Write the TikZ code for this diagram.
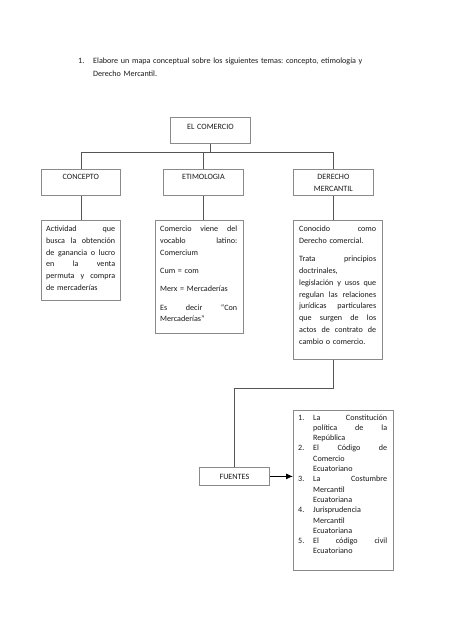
\documentclass[tikz,border=0pt]{standalone}
\usepackage{fontspec}
\setmainfont{Carlito}
\usetikzlibrary{arrows.meta,calc}
\definecolor{boxc}{HTML}{8A8A8A}
\definecolor{linec}{HTML}{555555}
\definecolor{txt}{HTML}{1A1A1A}
\frenchspacing
\newcommand\jl[2][77pt]{{\spaceskip=0pt\xspaceskip=0pt\makebox[#1][s]{#2}}}
\newcommand\nm[1]{\makebox[15pt][l]{#1}}
\begin{document}
\begin{tikzpicture}[x=1pt,y=-1pt,
  every node/.style={text=txt, font=\fontsize{8.1}{11.8}\selectfont\frenchspacing},
  hbox/.style={draw=boxc, line width=0.8pt, anchor=north west, inner sep=0pt, align=center},
  tbox/.style={draw=boxc, line width=0.8pt, anchor=north west, inner sep=0pt},
  tx/.style={anchor=base west, inner sep=0pt, align=left},
  conn/.style={draw=linec, line width=0.8pt}]
\fill[white] (0,0) rectangle (452,640);
\useasboundingbox (0,0) rectangle (452,640);

% title
\node[tx, text width=320pt, font=\fontsize{8.1}{13}\selectfont\frenchspacing] (title) at (78,63)
  {\nm{1.}Elabore un mapa conceptual sobre los siguientes temas:\ concepto, etimología y\\
   \hspace*{15pt}Derecho Mercantil.};

% root
\node[hbox, text width=80pt, text height=12pt, text depth=14pt] (com) at (170,117) {EL COMERCIO};

% headers
\node[hbox, text width=79pt, text height=10pt, text depth=16pt] (ch) at (41,169) {CONCEPTO};
\node[hbox, text width=80pt, text height=10pt, text depth=16pt] (eh) at (163,169) {ETIMOLOGIA};
\node[hbox, text width=80pt, text height=10pt, text depth=16pt] (dh) at (293,169) {DERECHO\\MERCANTIL};

% text boxes
\node[tbox, minimum width=79pt, minimum height=80pt] (cb) at (41,220) {};
\node[tx, text width=69pt] (ct) at ($(cb.north west)+(5,11.5)$)
  {\jl[69pt]{Actividad que}\\
   \jl[69pt]{busca la obtención}\\
   \jl[69pt]{de ganancia o lucro}\\
   \jl[69pt]{en la venta}\\
   \jl[69pt]{permuta y compra}\\
   de mercaderías};

\node[tbox, minimum width=88pt, minimum height=113pt] (eb) at (155,220) {};
\node[tx, text width=77pt] (et) at ($(eb.north west)+(5,11.5)$)
  {\jl{Comercio viene del}\\
   \jl{vocablo latino:}\\
   Comercium\\[6.5pt]
   Cum = com\\[6.5pt]
   Merx = Mercaderías\\[6.5pt]
   \jl{Es decir “Con}\\
   Mercaderías”};

\node[tbox, minimum width=89pt, minimum height=139pt] (db) at (293,220) {};
\node[tx, text width=77pt] (dt) at ($(db.north west)+(6,11.5)$)
  {\jl{Conocido como}\\
   Derecho comercial.\\[6.5pt]
   \jl{Trata principios}\\
   doctrinales,\\
   \jl{legislación y usos que}\\
   \jl{regulan las relaciones}\\
   \jl{jurídicas particulares}\\
   \jl{que surgen de los}\\
   \jl{actos de contrato de}\\
   cambio o comercio.};

% fuentes
\node[hbox, text width=70pt, text height=12pt, text depth=6pt] (fu) at (199,467) {FUENTES};
\node[tbox, minimum width=100pt, minimum height=160pt] (fl) at (293,410) {};
\node[tx, text width=89pt, font=\fontsize{8.1}{10.3}\selectfont] (ft) at ($(fl.north west)+(5,10)$)
  {\nm{1.}\jl[74pt]{La Constitución}\\
   \hspace*{15pt}\jl[74pt]{política de la}\\
   \hspace*{15pt}República\\
   \nm{2.}\jl[74pt]{El Código de}\\
   \hspace*{15pt}Comercio\\
   \hspace*{15pt}Ecuatoriano\\
   \nm{3.}\jl[74pt]{La Costumbre}\\
   \hspace*{15pt}Mercantil\\
   \hspace*{15pt}Ecuatoriana\\
   \nm{4.}Jurisprudencia\\
   \hspace*{15pt}Mercantil\\
   \hspace*{15pt}Ecuatoriana\\
   \nm{5.}\jl[74pt]{El código civil}\\
   \hspace*{15pt}Ecuatoriano};

% connectors
\coordinate (bus) at (204,152);
\draw[conn] (com.south) -- (com.south |- bus);
\draw[conn] (ch.north |- bus) -- (dh.north |- bus);
\draw[conn] (ch.north) -- (ch.north |- bus);
\draw[conn] (eh.north) -- (eh.north |- bus);
\draw[conn] (dh.north) -- (dh.north |- bus);
\draw[conn] (ch.south) -- (ch.south |- cb.north);
\draw[conn] (eh.south) -- (eh.south |- eb.north);
\draw[conn] (dh.south) -- (dh.south |- db.north);
\draw[conn] (dh.south |- db.south) -- ++(0,29) -| (fu.north);
\draw[line width=0.8pt, black, -{Latex[length=7pt,width=6pt]}] (fu.east) -- (fu.east -| fl.west);
\end{tikzpicture}
\end{document}
